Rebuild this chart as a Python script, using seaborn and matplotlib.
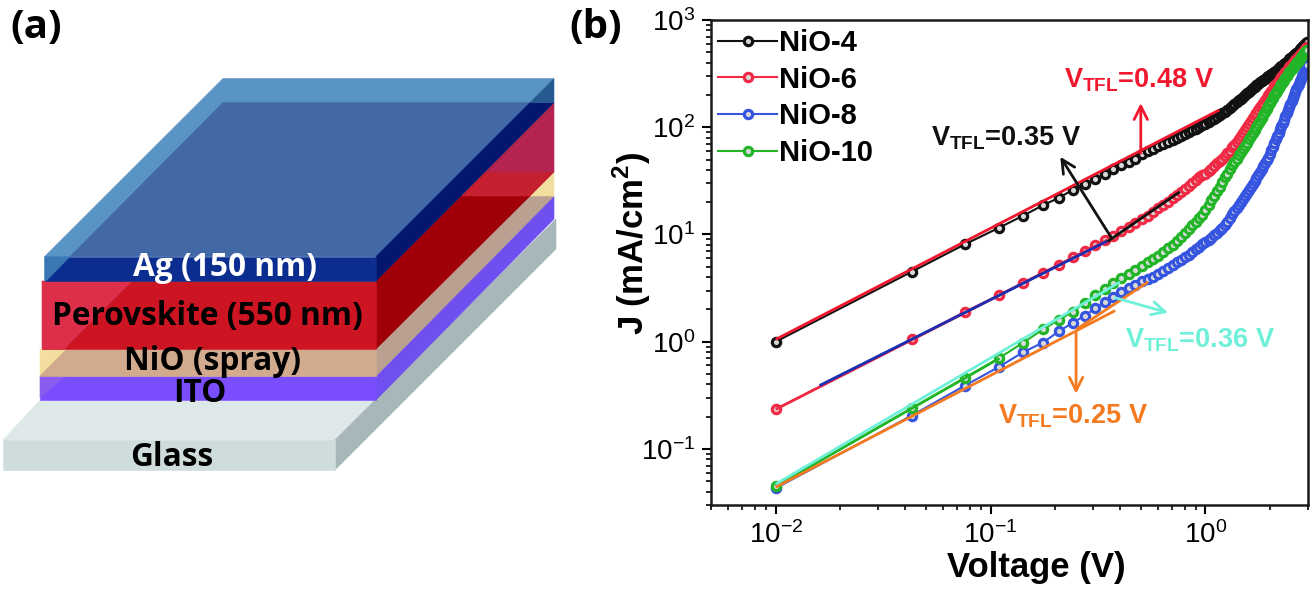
import matplotlib
matplotlib.use("Agg")
import matplotlib.pyplot as plt
from matplotlib.patches import Polygon
from matplotlib.ticker import LogLocator, NullFormatter
import seaborn as sns
import pandas as pd

# voltage sweep (V)
voltage = [0.01, 0.043, 0.076, 0.109, 0.142, 0.175, 0.208, 0.241, 0.274, 0.307,
           0.34, 0.373, 0.406, 0.439, 0.472, 0.505, 0.538, 0.571, 0.604, 0.637,
           0.67, 0.703, 0.736, 0.769, 0.802, 0.835, 0.868, 0.901, 0.934, 0.967,
           1.0, 1.033, 1.066, 1.099, 1.132, 1.165, 1.198, 1.231, 1.264, 1.297,
           1.33, 1.363, 1.396, 1.429, 1.462, 1.495, 1.528, 1.561, 1.594, 1.627,
           1.66, 1.693, 1.726, 1.759, 1.792, 1.825, 1.858, 1.891, 1.924, 1.957,
           1.99, 2.023, 2.056, 2.089, 2.122, 2.155, 2.188, 2.221, 2.254, 2.287,
           2.32, 2.353, 2.386, 2.419, 2.452, 2.485, 2.518, 2.551, 2.584, 2.617,
           2.65, 2.683, 2.716, 2.749, 2.782, 2.815, 2.848, 2.881, 2.914, 2.947,
           2.98]

# current density (mA/cm2)
nio4 = [1.0, 4.5, 8.1, 11.5, 15, 18.7, 22, 26, 29.5, 33,
        37, 40.5, 44, 47.5, 51, 56, 59.5, 63, 66.5, 70,
        73, 76.5, 80, 83, 87, 90, 93.5, 97, 100, 104,
        108, 112, 116, 120, 125, 130, 135, 140, 146, 152,
        158, 164, 171, 178, 185, 192, 199, 207, 215, 223,
        232, 239, 247, 255, 262, 270, 277, 284, 291, 298,
        305, 313, 321, 329, 337, 345, 353, 362, 371, 380,
        390, 399, 409, 419, 429, 440, 450, 461, 472, 483,
        495, 507, 519, 531, 543, 555, 567, 580, 593, 606,
        620]
nio6 = [0.234, 1.05, 1.9, 2.7, 3.5, 4.35, 5.2, 6.1, 7.0, 7.9,
        8.8, 9.7, 10.7, 11.7, 12.8, 13.9, 15, 16.2, 17.5, 18.8,
        20.2, 21.7, 23.2, 24.8, 26.5, 28.2, 30, 32, 34, 35.5,
        37, 39, 41, 43.5, 46, 48.5, 51, 54, 57, 60.5,
        65, 69, 73, 78, 83, 88, 94, 100, 107, 114,
        122, 129, 137, 145, 153, 161, 170, 179, 188, 198,
        208, 218, 229, 240, 250, 261, 272, 283, 294, 305,
        316, 327, 338, 349, 361, 373, 385, 397, 409, 421,
        433, 445, 457, 469, 481, 493, 506, 519, 532, 545,
        558]
nio8 = [0.043, 0.205, 0.39, 0.58, 0.8, 0.98, 1.25, 1.5, 1.75, 2.05,
        2.35, 2.6, 2.9, 3.15, 3.4, 3.65, 3.85, 4.05, 4.3, 4.6,
        4.9, 5.2, 5.5, 5.8, 6.2, 6.5, 6.9, 7.3, 7.7, 8.1,
        8.5, 8.9, 9.3, 9.8, 10.4, 11, 11.6, 12.3, 13.1, 14.3,
        15.5, 16.5, 17.6, 18.8, 20, 21.4, 22.8, 24.3, 25.9, 27.6,
        29.4, 31.3, 33.4, 35.6, 38, 40.5, 43.2, 46, 49, 52,
        56, 61, 66, 71, 77, 83, 89, 96, 103, 110,
        118, 126, 135, 144, 154, 165, 176, 188, 200, 213,
        226, 240, 254, 268, 283, 298, 314, 330, 347, 364,
        380]
nio10 = [0.045, 0.24, 0.46, 0.70, 0.98, 1.3, 1.6, 1.9, 2.3, 2.7,
         3.1, 3.5, 3.9, 4.3, 4.7, 5.1, 5.5, 5.9, 6.3, 6.8,
         7.4, 8.0, 8.7, 9.5, 10.4, 11.3, 12.2, 13.2, 14.2, 15.3,
         17, 19, 21, 23, 25.5, 28, 31, 34, 37, 40.5,
         44, 47.5, 51, 55, 59, 63, 67.5, 72, 77, 82.5,
         88, 94, 101, 108, 115, 123, 131, 139, 148, 157,
         167, 177, 187, 198, 209, 220, 232, 243, 254, 265,
         276, 288, 300, 312, 324, 336, 348, 360, 372, 384,
         397, 410, 423, 436, 449, 462, 475, 488, 501, 514,
         525]

series_names = ["NiO-4", "NiO-6", "NiO-8", "NiO-10"]
series_values = [nio4, nio6, nio8, nio10]
series_colors = ["#111111", "#f02a45", "#3555e0", "#22b528"]

# fitted lines drawn over the data
fit_red_v, fit_red_j = [0.01, 1.16], [1.05, 145]
fit_black_v, fit_black_j = [0.35, 0.76], [8.6, 25]
fit_6_v, fit_6_j = [0.01, 0.35], [0.234, 8.9]
fit_blue_v, fit_blue_j = [0.016, 0.35], [0.39, 8.7]
fit_green_v, fit_green_j = [0.01, 0.11], [0.045, 0.7]
fit_orange_v, fit_orange_j = [0.01, 0.38], [0.044, 1.95]
fit_orange2_v, fit_orange2_j = [0.25, 0.54], [1.3, 3.6]
fit_cyan_v, fit_cyan_j = [0.01, 0.4], [0.047, 3.6]

plt.rcParams["mathtext.fontset"] = "custom"
plt.rcParams["mathtext.rm"] = "Liberation Sans"
plt.rcParams["mathtext.bf"] = "Liberation Sans:bold"
plt.rcParams["font.family"] = "Liberation Sans"

W, H = 1311, 589
fig = plt.figure(figsize=(W / 100, H / 100), dpi=100, facecolor="white")

# PANEL A - device stack, drawn in pixel coordinates
ax_a = fig.add_axes([0, 0, 590 / W, 1])
ax_a.set_xlim(0, 590)
ax_a.set_ylim(589, 0)
ax_a.axis("off")

layers = [
    # glass
    ([(40, 400), (376, 400), (556, 219), (335, 440), (3, 440)], "#dfe8e8"),
    ([(335, 440), (556, 219), (556, 249), (335, 470)], "#a8b8ba"),
    ([(3, 440), (335, 440), (335, 470), (3, 470)], "#cfdcdc"),
    # ITO
    ([(376, 376), (554, 196), (554, 219), (376, 400)], "#6f4ff0"),
    ([(40, 376), (376, 376), (376, 400), (40, 400)], "#7a4dff"),
    ([(40, 376), (65, 376), (40, 398)], "#8a5cf0"),
    # NiO
    ([(376, 349), (530, 196), (554, 196), (376, 376)], "#b9a090"),
    ([(530, 196), (554, 172), (554, 196)], "#f2dfa0"),
    ([(40, 349), (376, 349), (376, 376), (40, 376)], "#d2ab8f"),
    ([(40, 349), (66, 349), (40, 375)], "#f5dc9f"),
    # perovskite
    ([(376, 281), (461, 196), (530, 196), (376, 349)], "#a00008"),
    ([(461, 196), (485, 172), (554, 172), (530, 196)], "#c42030"),
    ([(485, 172), (554, 102.6), (554, 172)], "#b5234f"),
    ([(42, 281), (376, 281), (376, 349), (42, 349)], "#cc1422"),
    ([(42, 281), (132, 281), (64, 349), (42, 349)], "#dd2f4a"),
    # silver
    ([(223, 78.5), (554, 78.5), (376, 256.6), (44.6, 256.6)], "#5a94c4"),
    ([(223, 102.6), (530, 102.6), (376, 256.6), (70, 256.6)], "#4268a6"),
    ([(376, 256.6), (530, 102.6), (554, 102.6), (376, 281)], "#04166e"),
    ([(530, 102.6), (554, 78.5), (554, 102.6)], "#25598f"),
    ([(44.6, 256.6), (376, 256.6), (376, 281), (44.6, 281)], "#0a2d8f"),
    ([(44.6, 256.6), (70, 256.6), (46, 281), (44.6, 281)], "#3a78b4"),
]
for pts, col in layers:
    ax_a.add_patch(Polygon(pts, closed=True, facecolor=col, edgecolor=col, lw=0.4))

stack_font = dict(family="Open Sans", fontweight="bold", ha="center", va="center", fontsize=22.8)
ax_a.text(225, 267, "Ag (150 nm)", color="white", **stack_font)
ax_a.text(207, 316, "Perovskite (550 nm)", color="black", **stack_font)
ax_a.text(213, 362, "NiO (spray)", color="black", **stack_font)
ax_a.text(200, 393, "ITO", color="black", **stack_font)
ax_a.text(172, 457, "Glass", color="black", **stack_font)

fig.text(10 / W, 1 - 28 / H, "(a)", family="Open Sans", fontweight="bold", fontsize=29, va="center")
fig.text(569 / W, 1 - 28 / H, "(b)", family="Open Sans", fontweight="bold", fontsize=29, va="center")

# PANEL B - J-V curves
ax = fig.add_axes([711 / W, 1 - 505 / H, (1308 - 711) / W, (505 - 20) / H])

for name, vals, col in zip(series_names, series_values, series_colors):
    df = pd.DataFrame({"voltage": voltage, "J": vals})
    sns.lineplot(data=df, x="voltage", y="J", ax=ax, color=col, label=name,
                 estimator=None, errorbar=None, linewidth=1.5, marker="o",
                 markersize=6, markeredgewidth=2.3, markeredgecolor=col,
                 markerfacecolor="#d8d8d8")

fits = [
    (fit_6_v, fit_6_j, "#f02a45"),
    (fit_blue_v, fit_blue_j, "#1a2fb0"),
    (fit_black_v, fit_black_j, "#111111"),
    (fit_red_v, fit_red_j, "#f0182e"),
    (fit_green_v, fit_green_j, "#22b528"),
    (fit_orange_v, fit_orange_j, "#f47a20"),
    (fit_orange2_v, fit_orange2_j, "#f47a20"),
    (fit_cyan_v, fit_cyan_j, "#70f0d8"),
]
for fx, fy, col in fits:
    ax.plot(fx, fy, color=col, lw=2.0, solid_capstyle="butt", label="_nolegend_")

ax.set_xscale("log")
ax.set_yscale("log")
ax.set_xlim(0.005, 3)
ax.set_ylim(0.03, 1000)

ax.set_xticks([0.01, 0.1, 1])
ax.set_yticks([0.1, 1, 10, 100, 1000])
ax.set_xticklabels([r"$\mathregular{10^{-2}}$", r"$\mathregular{10^{-1}}$", r"$\mathregular{10^{0}}$"])
ax.set_yticklabels([r"$\mathregular{10^{-1}}$", r"$\mathregular{10^{0}}$", r"$\mathregular{10^{1}}$",
                    r"$\mathregular{10^{2}}$", r"$\mathregular{10^{3}}$"])
ax.xaxis.set_minor_locator(LogLocator(base=10, subs=[2, 3, 4, 5, 6, 7, 8, 9], numticks=12))
ax.yaxis.set_minor_locator(LogLocator(base=10, subs=[2, 3, 4, 5, 6, 7, 8, 9], numticks=12))
ax.xaxis.set_minor_formatter(NullFormatter())
ax.yaxis.set_minor_formatter(NullFormatter())
ax.tick_params(which="major", length=6.5, width=1.5, labelsize=20, pad=5)
ax.tick_params(which="minor", length=3.5, width=1.2)
for s in ax.spines.values():
    s.set_linewidth(1.8)
    s.set_color("#1a1a1a")

ax.set_xlabel("Voltage (V)", fontsize=25, fontweight="bold")
ax.set_ylabel("J (mA/cm$^{\\mathbf{2}}$)", fontsize=25, fontweight="bold")
ax.xaxis.set_label_coords((1036 - 711) / 597, -0.095)
ax.yaxis.set_label_coords((653 - 711) / 597, (505 - 243) / 485)

ax.legend(loc="upper left", frameon=False, labelspacing=0.3,
          handlelength=2.0, handletextpad=0.08, borderaxespad=0.0,
          bbox_to_anchor=(-0.007, 1.006), prop=dict(family="Liberation Sans", weight="bold", size=21))

# VTFL arrows
arrows = [
    ((0.50, 57), (0.50, 168), "#f0182e"),
    ((0.365, 9.3), (0.211, 53), "#111111"),
    ((0.38, 2.57), (0.67, 1.86), "#70f0d8"),
    ((0.25, 1.21), (0.25, 0.327), "#f47a20"),
]
for start, end, col in arrows:
    ax.annotate("", xy=end, xytext=start,
                arrowprops=dict(arrowstyle="->", color=col, lw=2.0, mutation_scale=24,
                                shrinkA=0, shrinkB=0))

labels = [
    (1064, 88, "0.48", "#f0182e"),
    (931, 145, "0.35", "#111111"),
    (1125, 347, "0.36", "#70f0d8"),
    (998, 424, "0.25", "#f47a20"),
]
for px, py, val, col in labels:
    fig.text(px / W, 1 - py / H, r"$\mathbf{V_{TFL}}$=" + val + " V", color=col,
             fontsize=19.5, fontweight="bold", va="baseline")

fig.savefig("out.png", dpi=100)
